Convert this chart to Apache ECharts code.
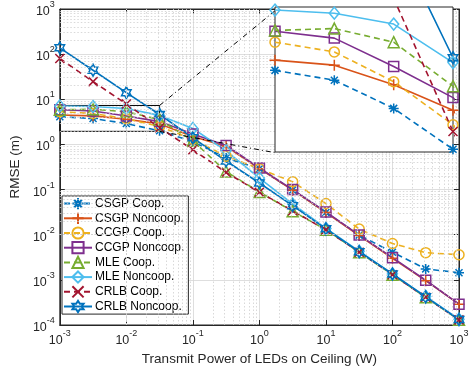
<!DOCTYPE html>
<html>
<head>
<meta charset="utf-8">
<script src="https://cdn.jsdelivr.net/npm/echarts@6/dist/echarts.min.js"></script>
<style>html,body{margin:0;padding:0;background:#fff}#c{width:474px;height:392px}</style>
</head>
<body>
<div id="c"></div>
<script>
// ---- data ----
const powerW = [0.001, 0.00316, 0.01, 0.0316, 0.1, 0.316, 1, 3.16, 10, 31.6, 100, 316, 1000];
const seriesNames = ['CSGP Coop.', 'CSGP Noncoop.', 'CCGP Coop.', 'CCGP Noncoop.', 'MLE Coop.', 'MLE Noncoop.', 'CRLB Coop.', 'CRLB Noncoop.'];
const csgpCoop = [4.1, 3.75, 2.9, 2.0, 1.15, 0.5, 0.29, 0.098, 0.031, 0.0098, 0.0041, 0.00175, 0.00144];
const csgpNoncoop = [4.5, 4.3, 3.6, 2.85, 1.5, 0.9, 0.29, 0.097, 0.031, 0.0096, 0.0030, 0.00096, 0.00029];
const ccgpCoop = [5.3, 4.85, 3.7, 2.5, 1.3, 0.55, 0.29, 0.149, 0.049, 0.0133, 0.0064, 0.0040, 0.0036];
const ccgpNoncoop = [5.85, 5.5, 4.25, 3.2, 1.7, 0.95, 0.30, 0.10, 0.032, 0.0098, 0.0031, 0.00098, 0.00029];
const mleCoop = [5.9, 6.0, 5.3, 3.55, 1.2, 0.25, 0.088, 0.033, 0.0129, 0.0041, 0.0013, 0.00041, 0.00013];
const mleNoncoop = [7.1, 6.9, 6.25, 4.4, 2.25, 0.72, 0.18, 0.048, 0.0138, 0.0043, 0.00136, 0.00043, 0.000134];
const crlbCoop = [80, 24.6, 7.9, 2.35, 0.76, 0.24, 0.087, 0.034, 0.0128, 0.0041, 0.0013, 0.00041, 0.00013];
const crlbNoncoop = [138, 44, 14, 4.6, 1.4, 0.43, 0.14, 0.044, 0.0135, 0.0042, 0.00135, 0.00042, 0.000132];
// zoom window (data coords) and inset anchor points
const zoomX = [0.001, 0.0316];
const zoomY = [1.95, 7.3];
const insetCornerX = 1.85;
const insetCornerY = [1000, 0.643];

// ---- styling ----
const FONT = 'Liberation Sans, Arial, Helvetica, sans-serif';
const AX = '#262626';
const allValues = [csgpCoop, csgpNoncoop, ccgpCoop, ccgpNoncoop, mleCoop, mleNoncoop, crlbCoop, crlbNoncoop];
const colors = ['#0072BD', '#D95319', '#EDB120', '#7E2F8E', '#77AC30', '#4DBEEE', '#A2142F', '#0072BD'];
const dashed = [true, false, true, false, true, false, true, false];
const symbols = [
  'path://M0 -5 L0 5 M-5 0 L5 0 M-3.5 -3.5 L3.5 3.5 M-3.5 3.5 L3.5 -3.5',
  'path://M0 -5 L0 5 M-5 0 L5 0',
  'circle', 'rect', 'triangle', 'diamond',
  'path://M-5 -5 L5 5 M-5 5 L5 -5',
  'path://M0 -10 L2.887 -5 L8.66 -5 L5.77 0 L8.66 5 L2.887 5 L0 10 L-2.887 5 L-8.66 5 L-5.77 0 L-8.66 -5 L-2.887 -5 Z'
];
const symSizes = [10, 11, 10, 10, 11, [10, 12], 9, [11, 12]];

function fmt(v) {
  const e = Math.round(Math.log10(v));
  return '{b|10}{s|' + e + '}';
}
const richLbl = {
  b: {fontSize: 12.5, fontFamily: FONT, color: AX, verticalAlign: 'bottom', lineHeight: 18},
  s: {fontSize: 9, fontFamily: FONT, color: AX, verticalAlign: 'top', lineHeight: 18}
};

// minor grid lines (2..9 x 10^k)
const minorX = [], minorY = [];
for (let k = -3; k < 3; k++) for (let m = 2; m <= 9; m++) minorX.push({xAxis: m * Math.pow(10, k)});
for (let k = -4; k < 3; k++) for (let m = 2; m <= 9; m++) minorY.push({yAxis: m * Math.pow(10, k)});

const series = [];
series.push({
  type: 'line', name: '__grid', xAxisIndex: 0, yAxisIndex: 0, data: [], silent: true, z: 1,
  markLine: {
    silent: true, symbol: 'none', label: {show: false}, animation: false,
    lineStyle: {color: '#cfcfcf', width: 0.8, type: [1.5, 2]},
    data: minorX.concat(minorY)
  }
});
series.push({
  type: 'line', name: '__zoom', xAxisIndex: 0, yAxisIndex: 0, data: [], silent: true, z: 3,
  markArea: {
    silent: true, label: {show: false},
    itemStyle: {color: 'rgba(0,0,0,0)', borderColor: '#000', borderWidth: 1},
    data: [[{coord: [zoomX[0], zoomY[1]]}, {coord: [zoomX[1], zoomY[0]]}]]
  },
  markLine: {
    silent: true, symbol: 'none', label: {show: false}, animation: false,
    lineStyle: {color: '#000', width: 1, type: [5, 3, 1, 3]},
    data: [
      [{coord: [zoomX[1], zoomY[1]]}, {coord: [insetCornerX, insetCornerY[0]]}],
      [{coord: [zoomX[1], zoomY[0]]}, {coord: [insetCornerX, insetCornerY[1]]}]
    ]
  }
});

function mkSeries(i, grid) {
  const c = colors[i];
  return {
    type: 'line', name: seriesNames[i],
    xAxisIndex: grid, yAxisIndex: grid,
    data: powerW.map((x, j) => [x, allValues[i][j]]),
    symbol: symbols[i], symbolSize: symSizes[i], symbolKeepAspect: true,
    showAllSymbol: true, clip: true, animation: false,
    color: c,
    lineStyle: {color: c, width: 1.6, type: dashed[i] ? [6, 4] : 'solid'},
    itemStyle: {color: 'rgba(255,255,255,0)', borderColor: c, borderWidth: 1.5},
    emphasis: {disabled: true},
    z: grid === 1 ? 12 : 2
  };
}
for (let i = 0; i < 8; i++) series.push(mkSeries(i, 0));
for (let i = 0; i < 8; i++) series.push(mkSeries(i, 1));

const option = {
  backgroundColor: '#fff',
  animation: false,
  grid: [
    {left: 55, right: 15, top: 7, bottom: 67, show: true, borderColor: AX, borderWidth: 1, backgroundColor: '#fff', z: 0},
    {left: 275, top: 7, width: 178, height: 145, show: true, borderColor: AX, borderWidth: 1, backgroundColor: '#fff', z: 10}
  ],
  xAxis: [
    {
      type: 'log', logBase: 10, gridIndex: 0, min: 0.001, max: 1000, splitNumber: 6,
      name: 'Transmit Power of LEDs on Ceiling (W)', nameLocation: 'middle', nameGap: 27,
      nameTextStyle: {fontSize: 13.5, fontFamily: FONT, color: AX},
      axisLine: {show: true, lineStyle: {color: AX, width: 1}},
      axisTick: {show: true, inside: true, length: 5, lineStyle: {color: AX}},
      axisLabel: {formatter: fmt, rich: richLbl, margin: 4},
      splitLine: {show: true, lineStyle: {color: '#d6d6d6', width: 0.8}}
    },
    {type: 'log', logBase: 10, gridIndex: 1, min: zoomX[0], max: zoomX[1], show: false},
    {
      type: 'log', logBase: 10, gridIndex: 0, min: 0.001, max: 1000, splitNumber: 6, position: 'top',
      axisLine: {show: true, lineStyle: {color: AX}},
      axisTick: {show: true, inside: true, length: 5, lineStyle: {color: AX}},
      axisLabel: {show: false}, splitLine: {show: false}
    }
  ],
  yAxis: [
    {
      type: 'log', logBase: 10, gridIndex: 0, min: 0.0001, max: 1000, splitNumber: 7,
      name: 'RMSE (m)', nameLocation: 'middle', nameGap: 36,
      nameTextStyle: {fontSize: 13.5, fontFamily: FONT, color: AX},
      axisLine: {show: true, lineStyle: {color: AX, width: 1}},
      axisTick: {show: true, inside: true, length: 5, lineStyle: {color: AX}},
      axisLabel: {formatter: fmt, rich: richLbl, margin: 5},
      splitLine: {show: true, lineStyle: {color: '#d6d6d6', width: 0.8}}
    },
    {type: 'log', logBase: 10, gridIndex: 1, min: zoomY[0], max: zoomY[1], show: false},
    {
      type: 'log', logBase: 10, gridIndex: 0, min: 0.0001, max: 1000, splitNumber: 7, position: 'right',
      axisLine: {show: true, lineStyle: {color: AX}},
      axisTick: {show: true, inside: true, length: 5, lineStyle: {color: AX}},
      axisLabel: {show: false}, splitLine: {show: false}
    }
  ],
  legend: {
    show: true, orient: 'vertical', left: 62, top: 196,
    data: seriesNames,
    itemWidth: 28, itemHeight: 14, itemGap: 1.5, padding: [1, 4, 1, 1],
    backgroundColor: '#fff', borderColor: AX, borderWidth: 1, borderRadius: 0,
    textStyle: {fontSize: 12, fontFamily: FONT, color: '#000', padding: [0, 0, 0, -2]},
    selectedMode: false
  },
  series: series
};

const chart = echarts.init(document.getElementById('c'), null, {renderer: 'canvas'});
chart.setOption(option);
</script>
</body>
</html>
